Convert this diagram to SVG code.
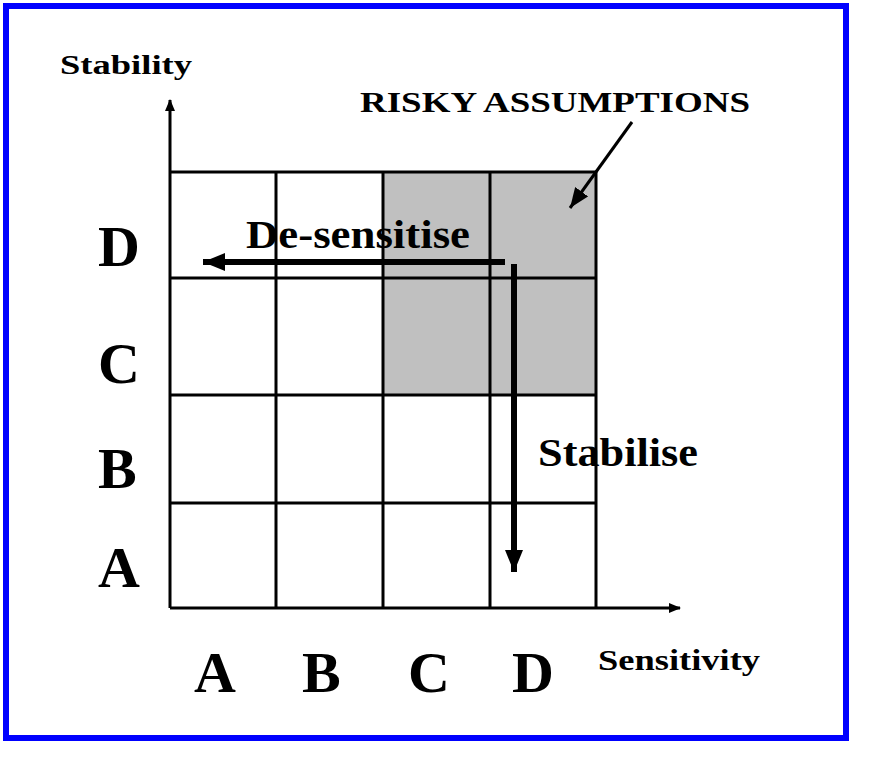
<svg xmlns="http://www.w3.org/2000/svg" width="890" height="776" viewBox="0 0 890 776">
<defs>
<style>
.t{font-family:"Liberation Serif",serif;font-weight:bold;fill:#000}
.g{stroke:#000;stroke-width:3;fill:none}
</style>
<marker id="a" markerWidth="12" markerHeight="10" refX="11" refY="5" orient="auto" markerUnits="userSpaceOnUse"><path d="M0,0L12,5L0,10z" fill="#000"/></marker>
<marker id="b" markerWidth="20" markerHeight="16" refX="20" refY="8" orient="auto" markerUnits="userSpaceOnUse"><path d="M0,0L20,8L0,16z" fill="#000"/></marker>
<marker id="c" markerWidth="22" markerHeight="18" refX="22" refY="9" orient="auto" markerUnits="userSpaceOnUse"><path d="M0,0L22,9L0,18z" fill="#000"/></marker>
</defs>
<rect x="0" y="0" width="890" height="776" fill="#fff"/>
<rect x="6" y="6" width="840" height="732" fill="none" stroke="#0000ff" stroke-width="6"/>
<g id="grid">
<rect x="383" y="172" width="213" height="223" fill="#c0c0c0"/>
<path class="g" d="M170,172H596V608M170,278H596M170,395H596M170,503H596M276,172V608M383,172V608M490,172V608"/>
</g>
<g id="connectors">
<line x1="170" y1="608" x2="170" y2="100" stroke="#000" stroke-width="3" marker-end="url(#a)"/>
<line x1="170" y1="608" x2="680" y2="608" stroke="#000" stroke-width="3" marker-end="url(#a)"/>
<line x1="632" y1="122" x2="570" y2="208" stroke="#000" stroke-width="3" marker-end="url(#b)"/>
<line x1="505" y1="262" x2="203" y2="262" stroke="#000" stroke-width="6" marker-end="url(#c)"/>
<line x1="514" y1="264" x2="514" y2="572" stroke="#000" stroke-width="6" marker-end="url(#c)"/>
</g>
<g id="labels">
<text class="t" x="60" y="74" font-size="28" textLength="132" lengthAdjust="spacingAndGlyphs">Stability</text>
<text class="t" x="360" y="112" font-size="30" textLength="390" lengthAdjust="spacingAndGlyphs">RISKY ASSUMPTIONS</text>
<text class="t" x="246" y="248" font-size="40" textLength="224" lengthAdjust="spacingAndGlyphs">De-sensitise</text>
<text class="t" x="538" y="466" font-size="40" textLength="160" lengthAdjust="spacingAndGlyphs">Stabilise</text>
<text class="t" x="598" y="670" font-size="30" textLength="162" lengthAdjust="spacingAndGlyphs">Sensitivity</text>
<text class="t" x="98" y="266" font-size="58">D</text>
<text class="t" x="98" y="383" font-size="58">C</text>
<text class="t" x="98" y="488" font-size="58">B</text>
<text class="t" x="98" y="587" font-size="58">A</text>
<text class="t" x="194" y="692" font-size="58">A</text>
<text class="t" x="302" y="692" font-size="58">B</text>
<text class="t" x="408" y="692" font-size="58">C</text>
<text class="t" x="512" y="692" font-size="58">D</text>
</g>
</svg>
